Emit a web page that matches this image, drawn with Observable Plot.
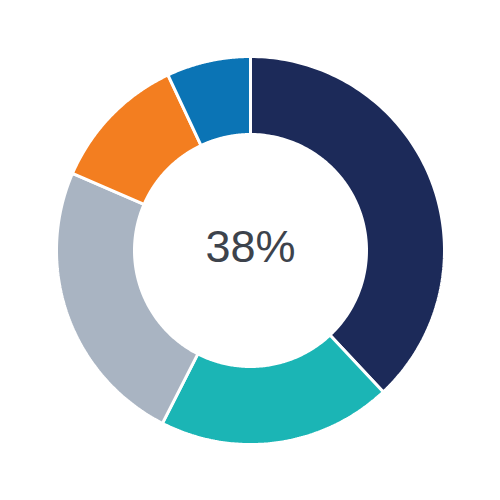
<!DOCTYPE html>
<html>
<head>
<meta charset="utf-8">
<script src="https://cdn.jsdelivr.net/npm/d3@7"></script>
<script src="https://cdn.jsdelivr.net/npm/@observablehq/plot@0.6"></script>
<style>
  html, body { margin: 0; padding: 0; background: #fff; }
  #chart { width: 500px; height: 500px; }
</style>
</head>
<body>
<div id="chart"></div>
<script>
const categories = ["A", "B", "C", "D", "E"];
const values = [38, 19.5, 24, 11.5, 7];
const colors = ["#1c2a59", "#1bb5b5", "#a9b4c2", "#f37e20", "#0b74b5"];
const centerLabel = "38%";

const outerR = 194;
const innerR = 116;
const steps = 120;

const arcs = d3.pie().sort(null).value(d => d.value)(
  categories.map((c, i) => ({ category: c, value: values[i] }))
);

const points = [];
for (const a of arcs) {
  const cat = a.data.category;
  for (let k = 0; k <= steps; k++) {
    const t = a.startAngle + (a.endAngle - a.startAngle) * k / steps;
    points.push({ category: cat, x: outerR * Math.sin(t), y: outerR * Math.cos(t) });
  }
  for (let k = steps; k >= 0; k--) {
    const t = a.startAngle + (a.endAngle - a.startAngle) * k / steps;
    points.push({ category: cat, x: innerR * Math.sin(t), y: innerR * Math.cos(t) });
  }
  points.push({ category: cat, x: outerR * Math.sin(a.startAngle), y: outerR * Math.cos(a.startAngle) });
}

const chart = Plot.plot({
  width: 500,
  height: 500,
  margin: 0,
  x: { domain: [-250, 250], axis: null },
  y: { domain: [-250, 250], axis: null },
  color: { domain: categories, range: colors },
  style: { background: "white" },
  marks: [
    Plot.line(points, {
      x: "x", y: "y", z: "category",
      fill: "category",
      stroke: "white",
      strokeWidth: 3,
      strokeLinejoin: "miter"
    }),
    Plot.text([centerLabel], {
      x: () => 0, y: () => 3,
      text: d => d,
      fontSize: 45,
      fontFamily: "Liberation Sans, Arial, Helvetica, sans-serif",
      fill: "#3d434c",
      textAnchor: "middle",
      lineAnchor: "middle"
    })
  ]
});
document.getElementById("chart").appendChild(chart);
</script>
</body>
</html>
